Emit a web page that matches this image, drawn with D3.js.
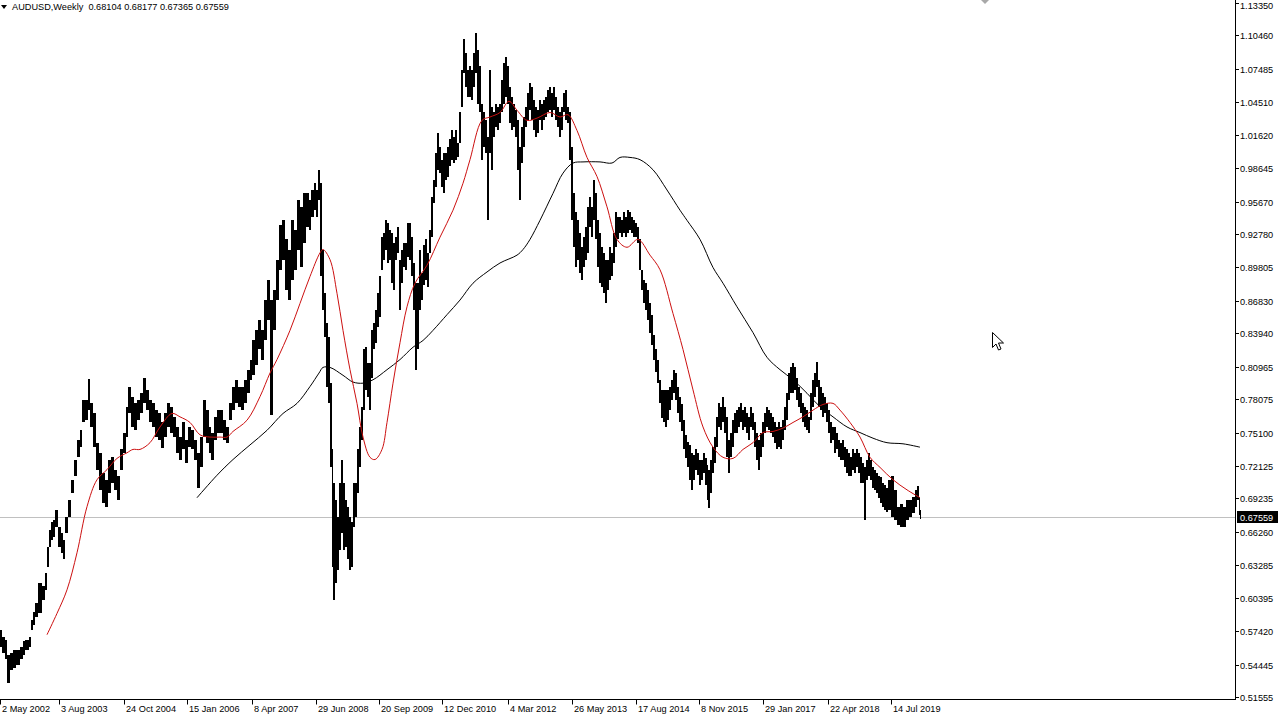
<!DOCTYPE html>
<html><head><meta charset="utf-8">
<script src="https://cdn.jsdelivr.net/npm/d3@7"></script>
<style>html,body{margin:0;padding:0;background:#fff;overflow:hidden}svg{display:block}</style>
</head><body><svg id="c" width="1280" height="720"></svg>
<script>
// ---------- data ----------
const symbol = "AUDUSD,Weekly";
const lastOHLC = [0.68104, 0.68177, 0.67365, 0.67559];
const priceTicks = [1.13350,1.10460,1.07485,1.04510,1.01620,0.98645,0.95670,0.92780,0.89805,0.86830,0.83940,
  0.80965,0.78075,0.75100,0.72125,0.69235,0.66260,0.63285,0.60395,0.57420,0.54445,0.51555];
const dateTickWeeks = [0,59,124,187,252,316,379,442,508,572,636,699,763,828,891];
const dateTickLabels = ["2 May 2002","3 Aug 2003","24 Oct 2004","15 Jan 2006","8 Apr 2007","29 Jun 2008",
  "20 Sep 2009","12 Dec 2010","4 Mar 2012","26 May 2013","17 Aug 2014","8 Nov 2015","29 Jan 2017","22 Apr 2018","14 Jul 2019"];

// weekly bars (week index from first visible bar), high and low
const weeks = [
0,2,5,7,10,13,16,20,23,25,
29,31,33,35,38,42,45,47,49,51,
53,55,58,61,63,65,68,71,74,77,
80,82,85,88,90,93,96,99,102,105,
108,111,114,117,120,123,126,128,131,134,
137,140,143,146,149,152,155,158,161,164,
167,170,173,176,179,182,185,188,191,194,
197,200,203,206,209,211,214,217,220,223,
226,229,232,235,238,241,244,247,250,252,
255,258,261,264,267,270,273,276,279,282,
285,288,291,294,297,300,303,306,309,311,
314,316,318,320,322,324,326,328,330,332,
333,335,337,339,341,343,345,347,349,351,
353,355,357,359,361,363,365,367,369,371,
373,375,377,379,381,383,385,387,389,391,
393,395,397,399,401,403,405,407,409,411,
413,415,417,419,421,423,425,427,429,431,
433,435,437,439,441,443,445,447,449,451,
453,455,457,459,461,463,465,467,469,471,
473,475,477,479,481,483,485,487,489,491,
493,495,497,499,501,503,505,507,509,511,
513,515,517,519,521,523,525,527,529,531,
533,535,537,539,541,543,545,547,549,551,
553,555,557,559,561,563,565,567,569,571,
573,575,577,579,581,583,585,587,589,591,
593,595,597,599,601,603,605,607,609,611,
613,615,617,619,621,623,625,627,629,631,
633,635,637,639,641,643,645,647,649,651,
653,655,657,659,661,663,665,667,669,671,
673,675,677,679,681,683,685,687,689,691,
693,695,697,699,701,703,705,707,708,710,
712,714,716,718,720,722,724,726,728,730,
732,734,736,738,740,742,744,746,748,750,
752,754,756,758,760,762,764,766,768,770,
772,774,776,778,780,782,784,786,788,790,
792,794,796,798,800,802,804,806,808,810,
812,814,816,818,820,822,824,826,828,830,
832,834,836,838,840,842,844,846,848,850,
852,854,856,858,860,862,864,866,868,870,
872,874,876,878,880,882,884,886,888,891,
894,897,900,903,906,909,912,915,917,919,920];
const highs = [
.575,.569,.566,.553,.555,.557,.557,.560,.565,.566,
.569,.584,.591,.599,.617,.614,.626,.649,.664,.671,
.673,.682,.667,.662,.655,.676,.691,.709,.727,.744,
.753,.780,.780,.799,.777,.768,.742,.733,.715,.709,
.727,.729,.718,.712,.736,.751,.774,.792,.783,.777,
.780,.786,.800,.789,.780,.777,.771,.768,.760,.768,
.777,.774,.765,.756,.747,.760,.744,.756,.753,.744,
.733,.747,.780,.771,.756,.751,.765,.771,.771,.762,
.756,.777,.792,.798,.792,.792,.798,.807,.816,.833,
.842,.851,.842,.869,.887,.869,.878,.905,.936,.940,
.923,.914,.940,.931,.958,.952,.964,.964,.958,.967,
.973,.967,.985,.973,.914,.875,.849,.836,.795,.736,
.706,.691,.676,.706,.727,.706,.691,.685,.676,.671,
.706,.706,.736,.756,.774,.825,.827,.813,.813,.842,
.849,.860,.875,.890,.925,.929,.940,.938,.931,.929,
.920,.925,.934,.905,.914,.920,.920,.938,.938,.925,
.902,.884,.884,.914,.893,.918,.923,.911,.931,.961,
.976,1.000,1.018,1.005,.994,1.000,1.000,1.005,1.012,1.020,
1.014,1.020,1.009,1.036,1.074,1.101,1.089,1.074,1.077,1.074,
1.089,1.107,1.092,1.077,1.044,1.036,1.029,1.014,1.074,1.041,
1.036,1.044,1.041,1.044,1.065,1.080,1.085,1.077,1.059,1.050,
1.044,1.038,1.029,1.005,1.023,1.032,1.041,1.053,1.062,1.059,
1.047,1.041,1.038,1.047,1.044,1.047,1.050,1.056,1.059,1.053,
1.059,1.050,1.041,1.036,1.041,1.053,1.056,1.041,1.036,1.005,
.964,.947,.940,.929,.916,.925,.934,.952,.961,.952,
.976,.964,.940,.929,.916,.911,.905,.905,.916,.911,
.929,.947,.943,.943,.940,.947,.943,.949,.947,.943,
.940,.938,.934,.923,.896,.887,.884,.878,.866,.856,
.838,.825,.816,.798,.789,.789,.789,.789,.792,.798,
.807,.804,.792,.783,.776,.762,.749,.743,.740,.733,
.731,.736,.733,.727,.727,.733,.728,.722,.718,.727,
.738,.747,.765,.777,.774,.783,.774,.765,.744,.751,
.762,.768,.771,.774,.777,.771,.774,.768,.765,.774,
.768,.760,.751,.744,.751,.760,.768,.774,.771,.768,
.765,.760,.756,.760,.756,.762,.774,.786,.804,.809,
.813,.809,.800,.792,.786,.777,.774,.771,.765,.786,
.798,.804,.814,.798,.792,.786,.783,.777,.771,.760,
.756,.756,.751,.744,.742,.744,.738,.736,.733,.729,
.736,.733,.736,.733,.729,.724,.720,.727,.733,.727,
.720,.718,.715,.712,.711,.706,.704,.702,.709,.712,
.700,.685,.687,.685,.691,.691,.694,.700,.703,.694,.68177];
const lows = [
.560,.555,.549,.528,.540,.541,.544,.549,.553,.557,
.560,.575,.580,.587,.590,.602,.611,.631,.649,.655,
.658,.667,.649,.644,.638,.662,.676,.697,.712,.729,
.738,.760,.762,.771,.756,.738,.718,.700,.688,.685,
.697,.706,.700,.691,.718,.733,.747,.768,.756,.753,
.762,.768,.777,.771,.760,.756,.747,.744,.737,.747,
.756,.751,.747,.733,.727,.736,.724,.738,.736,.727,
.702,.720,.747,.742,.733,.727,.744,.751,.751,.744,
.742,.762,.771,.777,.774,.771,.777,.786,.798,.802,
.811,.825,.816,.833,.851,.767,.842,.869,.896,.905,
.878,.869,.887,.896,.914,.898,.920,.934,.931,.943,
.949,.943,.958,.890,.860,.836,.792,.777,.720,.631,
.602,.617,.629,.646,.662,.646,.649,.638,.629,.631,
.667,.676,.697,.720,.744,.771,.789,.783,.771,.800,
.825,.831,.845,.854,.896,.905,.914,.902,.905,.884,
.878,.905,.911,.860,.884,.898,.896,.907,.905,.890,
.860,.807,.825,.860,.869,.882,.887,.881,.911,.925,
.955,.970,.985,.982,.970,.964,.976,.979,.988,.994,
.991,.994,.996,1.009,1.041,1.071,1.059,1.050,1.050,1.047,
1.059,1.071,1.044,1.036,.994,1.005,1.000,.940,1.000,.985,
1.014,1.023,1.020,1.027,1.036,1.044,1.050,1.044,1.027,1.020,
1.023,1.014,.985,.958,.991,1.005,1.023,1.029,1.038,1.029,
1.020,1.014,1.018,1.029,1.020,1.029,1.032,1.036,1.038,1.032,
1.038,1.029,1.023,1.014,1.020,1.036,1.029,1.027,.994,.940,
.916,.898,.905,.893,.887,.898,.905,.911,.934,.925,
.940,.923,.898,.884,.881,.875,.866,.878,.887,.890,
.902,.916,.923,.929,.925,.929,.925,.929,.931,.929,
.925,.925,.920,.896,.878,.866,.860,.851,.840,.829,
.816,.805,.795,.777,.764,.760,.756,.762,.771,.780,
.786,.780,.768,.760,.752,.736,.728,.720,.709,.700,
.709,.718,.713,.704,.709,.715,.704,.691,.684,.697,
.715,.724,.738,.756,.753,.760,.751,.729,.715,.729,
.738,.751,.751,.756,.760,.753,.756,.751,.744,.756,
.753,.738,.727,.718,.729,.738,.751,.756,.753,.751,
.747,.742,.736,.738,.736,.744,.753,.762,.780,.786,
.786,.789,.780,.774,.768,.760,.756,.753,.751,.762,
.774,.783,.792,.774,.771,.765,.768,.760,.751,.742,
.744,.733,.736,.729,.727,.727,.720,.715,.712,.712,
.718,.715,.720,.715,.706,.706,.673,.709,.712,.709,
.702,.700,.697,.693,.688,.685,.682,.680,.682,.676,
.673,.669,.667,.667,.673,.676,.679,.685,.691,.678,.67365];

// moving averages
const maFastWeeks = [47,57,67,77,87,97,107,117,127,133,140,150,160,172,180,190,200,210,220,227,233,247,260,270,277,290,300,310,320,323,330,337,343,350,357,363,370,375,382,387,393,400,407,415,427,440,453,463,470,482,490,500,509,517,527,537,550,560,568,577,587,597,607,617,627,638,650,660,673,683,693,703,713,723,733,743,753,763,773,783,793,803,813,823,833,840,850,860,870,880,893,907,920];
const maFastValues = [.571,.590,.611,.644,.685,.709,.718,.728,.733,.736,.736,.742,.756,.768,.765,.760,.749,.747,.747,.747,.752,.762,.783,.804,.816,.842,.866,.890,.911,.914,.905,.875,.842,.807,.777,.747,.729,.727,.736,.760,.795,.831,.863,.884,.900,.925,.949,.973,.994,1.029,1.032,1.036,1.046,1.038,1.029,1.031,1.036,1.032,1.034,1.020,.996,.979,.952,.923,.916,.923,.909,.896,.857,.825,.789,.756,.738,.729,.728,.736,.742,.751,.752,.755,.760,.765,.771,.776,.777,.771,.760,.747,.729,.720,.709,.700,.693];
const maSlowWeeks = [197,217,233,250,267,283,297,310,319,323,330,343,353,363,373,387,400,413,423,433,447,460,473,487,500,517,523,530,540,553,563,573,583,600,612,620,630,640,653,667,680,687,700,713,723,737,753,767,780,793,807,820,833,847,860,873,887,903,920];
const maSlowValues = [.693,.713,.727,.740,.753,.768,.777,.792,.804,.809,.809,.802,.796,.795,.798,.807,.816,.827,.833,.842,.856,.869,.884,.894,.902,.909,.914,.923,.940,.964,.982,.991,.992,.992,.991,.996,.996,.994,.985,.967,.949,.940,.923,.898,.884,.863,.840,.818,.807,.798,.786,.774,.765,.756,.751,.746,.742,.741,.738];

// ---------- drawing ----------
const W = 1280, H = 720, plotRight = 1235, plotBottom = 699.5;
const FONT = "'Liberation Sans', Arial, sans-serif";
const FS = "9.2px";
const svg = d3.select("#c");
svg.append("rect").attr("width", W).attr("height", H).attr("fill", "#fff");

const x = d3.scaleLinear().domain([0, plotRight]).range([0, plotRight]);
const y = d3.scaleLinear().domain([0.51555, 1.13350]).range([697, 3]);

// current price line
const close = lastOHLC[3];
svg.append("line").attr("x1", 0).attr("x2", plotRight).attr("y1", Math.round(y(close)) + 0.5).attr("y2", Math.round(y(close)) + 0.5)
  .attr("stroke", "#c0c0c0").attr("stroke-width", 1);

// bars
const bars = weeks.map((w, i) => ({ w, hi: highs[i], lo: lows[i], next: i < weeks.length - 1 ? weeks[i + 1] : w + 1 }));
svg.append("g").attr("shape-rendering", "crispEdges").selectAll("rect").data(bars).join("rect")
  .attr("x", d => x(d.w))
  .attr("width", d => Math.max(1, x(d.next) - x(d.w)))
  .attr("y", d => y(d.hi))
  .attr("height", d => Math.max(1, y(d.lo) - y(d.hi)))
  .attr("fill", "#000");

// moving averages
const line = d3.line().x(d => x(d[0])).y(d => y(d[1])).curve(d3.curveCatmullRom);
svg.append("path").attr("d", line(maSlowWeeks.map((w, i) => [w, maSlowValues[i]])))
  .attr("fill", "none").attr("stroke", "#000").attr("stroke-width", 1);
svg.append("path").attr("d", line(maFastWeeks.map((w, i) => [w, maFastValues[i]])))
  .attr("fill", "none").attr("stroke", "#cc1010").attr("stroke-width", 1);

// axes lines
svg.append("line").attr("x1", plotRight + 0.5).attr("x2", plotRight + 0.5).attr("y1", 0).attr("y2", plotBottom + 0.5).attr("stroke", "#000");
svg.append("line").attr("x1", 0).attr("x2", plotRight + 0.5).attr("y1", plotBottom).attr("y2", plotBottom).attr("stroke", "#000");

// price axis
const ya = svg.append("g").attr("font-family", FONT).attr("font-size", FS).attr("fill", "#000");
priceTicks.forEach(p => {
  const yy = Math.round(y(p)) + 0.5;
  ya.append("line").attr("x1", plotRight).attr("x2", plotRight + 4).attr("y1", yy).attr("y2", yy).attr("stroke", "#000");
  ya.append("text").attr("x", plotRight + 5).attr("y", Math.max(yy, 5.5)).attr("dy", "0.35em").text(p.toFixed(5));
});
// close price label
const cy = Math.round(y(close));
svg.append("rect").attr("x", plotRight + 2).attr("y", cy - 6).attr("width", 41).attr("height", 12).attr("fill", "#000");
svg.append("text").attr("x", plotRight + 5).attr("y", cy + 0.5).attr("dy", "0.35em").attr("font-family", FONT)
  .attr("font-size", FS).attr("fill", "#fff").text(close.toFixed(5));

// date axis
const xa = svg.append("g").attr("font-family", FONT).attr("font-size", FS).attr("fill", "#000");
dateTickWeeks.forEach((w, i) => {
  const xx = Math.round(x(w)) + 0.5;
  xa.append("line").attr("x1", xx).attr("x2", xx).attr("y1", plotBottom).attr("y2", plotBottom + 5).attr("stroke", "#000");
  xa.append("text").attr("x", xx + 1.5).attr("y", 712).text(dateTickLabels[i]);
});

// header
svg.append("path").attr("d", "M1,5 L7,5 L4,9 Z").attr("fill", "#000");
svg.append("text").attr("x", 12).attr("y", 10).attr("font-family", FONT).attr("font-size", FS).attr("fill", "#000")
  .attr("xml:space", "preserve")
  .text(symbol + "  " + lastOHLC.map(v => v.toFixed(5)).join(" "));

// shift marker & mouse cursor
svg.append("path").attr("d", "M981,0 L989,0 L985,4 Z").attr("fill", "#a8a8a8");
svg.append("path").attr("transform", "translate(992.5,332.5)")
  .attr("d", "M0,0 L0,15 L3.5,11.5 L6,17.5 L8.5,16.5 L6,10.5 L11,10.5 Z")
  .attr("fill", "#fff").attr("stroke", "#000").attr("stroke-width", 1).attr("stroke-linejoin", "miter");
</script></body></html>
